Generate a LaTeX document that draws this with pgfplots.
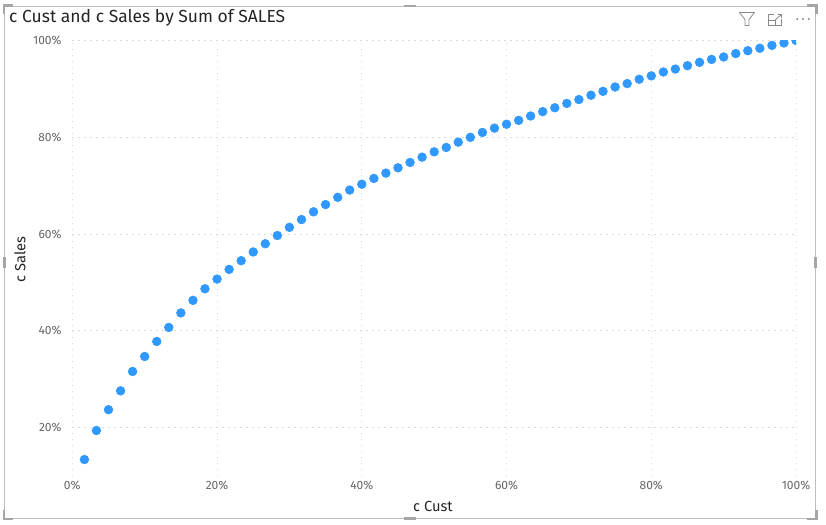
\documentclass[border=0pt]{standalone}
\usepackage{pgfplots}
\pgfplotsset{compat=1.18}
\usepackage{fontspec}
\setmainfont{Fira Sans}
\definecolor{dot}{HTML}{3099FF}
\definecolor{gridc}{HTML}{DADADA}
\definecolor{tickc}{HTML}{666666}
\definecolor{framec}{HTML}{BDBDBD}
\definecolor{handlec}{HTML}{A6A6A6}
\definecolor{iconc}{HTML}{8A8A8A}
\definecolor{titlec}{HTML}{252423}
\begin{document}
\begin{tikzpicture}
\useasboundingbox (0,0) rectangle (619.5pt,393.75pt);
\begin{axis}[
  at={(54.225pt,36.75pt)}, anchor=south west,
  scale only axis, width=542.8pt, height=326.6pt,
  xmin=0, xmax=100, ymin=10, ymax=100,
  axis line style={draw=none}, tick style={draw=none},
  xtick={0,20,40,60,80,100}, ytick={20,40,60,80,100},
  xticklabels={0\%,20\%,40\%,60\%,80\%,100\%},
  yticklabels={20\%,40\%,60\%,80\%,100\%},
  tick label style={font=\fontsize{9pt}{10pt}\selectfont, text=tickc},
  y tick label style={xshift=-4.5pt},
  x tick label style={yshift=-0.5pt},
  grid=major,
  grid style={gridc, line width=0.75pt, dash pattern=on 0.9pt off 3.6pt},
  clip marker paths=true,
  title={c Cust and c Sales by Sum of SALES},
  title style={at={(axis description cs:-0.0875,1.0425)}, anchor=base west, yshift=-6pt, inner sep=0pt,
    font=\fontsize{13.1pt}{15pt}\selectfont, text=titlec},
  xlabel={c Cust}, ylabel={c Sales},
  xlabel style={at={(axis description cs:0.4984,-0.0689)}, anchor=center,
    font=\fontsize{11pt}{12pt}\selectfont, text=titlec},
  ylabel style={at={(axis description cs:-0.0723,0.497)}, anchor=center,
    font=\fontsize{11pt}{12pt}\selectfont, text=titlec},
]
\addplot[only marks, draw=dot, fill=dot, mark=*, mark size=3.25pt, mark options={draw=dot, fill=dot, line width=0.5pt}] coordinates {
(1.67,13.4)(3.33,19.4)(5,23.7)(6.67,27.6)(8.33,31.6)(10,34.7)(11.67,37.8)(13.33,40.7)(15,43.7)(16.67,46.3)
(18.33,48.7)(20,50.7)(21.67,52.7)(23.33,54.5)(25,56.3)(26.67,58.0)(28.33,59.7)(30,61.4)(31.67,63.0)(33.33,64.6)
(35,66.1)(36.67,67.6)(38.33,69.1)(40,70.3)(41.67,71.5)(43.33,72.6)(45,73.7)(46.67,74.8)(48.33,75.9)(50,77.0)
(51.67,77.9)(53.33,79.0)(55,80.0)(56.67,81.0)(58.33,81.9)(60,82.7)(61.67,83.5)(63.33,84.4)(65,85.3)(66.67,86.1)
(68.33,87.0)(70,87.8)(71.67,88.7)(73.33,89.5)(75,90.4)(76.67,91.1)(78.33,92.0)(80,92.7)(81.67,93.5)(83.33,94.1)
(85,94.8)(86.67,95.5)(88.33,96.1)(90,96.6)(91.67,97.3)(93.33,97.9)(95,98.4)(96.67,99.0)(98.33,99.5)(100,100)
};
\end{axis}
\begin{scope}[x=0.75pt,y=-0.75pt,yshift=393.75pt]
  \draw[framec, line width=0.9pt] (4.5,6.3) rectangle (815.7,518.7);
  % corner brackets
  \draw[handlec, line width=2.2pt] (13,5.5) -- (4,5.5) -- (4,14);
  \draw[handlec, line width=2.2pt] (807,5.5) -- (816.5,5.5) -- (816.5,14);
  \draw[handlec, line width=2.2pt] (4,510) -- (4,519) -- (13,519);
  \draw[handlec, line width=2.2pt] (807,519) -- (816.5,519) -- (816.5,510);
  % mid handles
  \draw[handlec, line width=2.2pt] (404,6) -- (416,6);
  \draw[handlec, line width=2.2pt] (404,518.5) -- (416,518.5);
  \draw[handlec, line width=2.2pt] (4.5,257) -- (4.5,268);
  \draw[handlec, line width=2.2pt] (815.5,257) -- (815.5,268);
  % funnel icon
  \draw[iconc, line width=0.6pt, line join=round] (739.5,12.5) -- (754.5,12.5) -- (749,19.5) -- (749,25.5) -- (745,25.5) -- (745,19.5) -- cycle;
  % focus icon
  \draw[iconc, line width=0.6pt] (774,14.5) -- (768.5,14.5) -- (768.5,25.5) -- (781.5,25.5) -- (781.5,19);
  \draw[iconc, line width=0.6pt] (768.5,20) -- (775,20) -- (775,25.5);
  \draw[iconc, line width=0.6pt] (775,20) -- (781.5,14.5) (777.5,14.5) -- (781.5,14.5) -- (781.5,18);
  % more dots
  \fill[iconc] (797.3,19) circle (1.1) (803,19) circle (1.1) (808.7,19) circle (1.1);
\end{scope}
\end{tikzpicture}
\end{document}
